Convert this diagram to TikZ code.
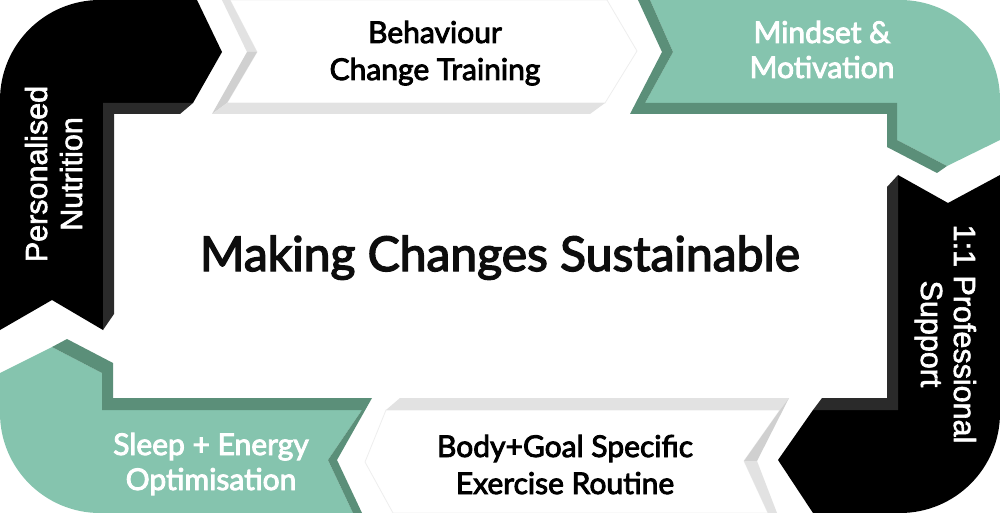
\documentclass[tikz,border=0pt]{standalone}
\usepackage{fontspec}
\setmainfont{Lato}
\newfontfamily\latom[FakeBold=3]{Lato}
\newfontfamily\arialf[FakeBold=2]{Liberation Sans}
\definecolor{gface}{HTML}{85C4AE}
\definecolor{gside}{HTML}{5B8F79}
\definecolor{kface}{HTML}{000000}
\definecolor{kside}{HTML}{2A2A2A}
\definecolor{wside}{HTML}{E2E2E2}
\definecolor{wsidedark}{HTML}{D0D0D0}
\definecolor{wedge}{HTML}{EEEEEE}
\begin{document}
\begin{tikzpicture}[x=1pt,y=-1pt,
  greenface/.style={fill=gface},
  greenside/.style={fill=gside},
  blackface/.style={fill=kface},
  blackside/.style={fill=kside},
  whiteface/.style={fill=white,draw=wedge,line width=0.8pt},
  whiteside/.style={fill=wside},
  whitesidedk/.style={fill=wsidedark},
  txtbase/.style={anchor=base,inner sep=0pt},
  onwhite/.style={txtbase,text=black,font=\latom\fontsize{30}{35}\selectfont},
  ongreen/.style={txtbase,text=white,font=\latom\fontsize{30}{35}\selectfont},
  onblack/.style={txtbase,text=white,font=\arialf\fontsize{30.5}{35}\selectfont},
  titletext/.style={txtbase,text=black!95,font=\latom\fontsize{48}{56}\selectfont}
]
\fill[white] (0,0) rectangle (1000,513);
\useasboundingbox (0,0) rectangle (1000,513);

% ---- Black top-left: Personalised Nutrition
\path[blackface] (0,330) -- (0,100) .. controls (0,44.8) and (44.8,0) .. (100,0)
  -- (197,0) -- (222,52) -- (193,103) -- (103,103) -- (103,330) -- (52,300) -- cycle;
\path[blackside] (103,103) -- (193,103) -- (180,114) -- (114,114) -- (114,314) -- (103,330) -- cycle;

% ---- White top: Behaviour Change Training
\path[whiteface] (230,0) -- (607,0) -- (637,51) -- (605,103) -- (227,103) -- (257,52) -- cycle;
\path[whiteside] (222,0) -- (230,0) -- (257,52) -- (247,52) -- cycle;
\path[whitesidedk] (247,52) -- (257,52) -- (227,103) -- (212,114) -- cycle;
\path[whiteside] (227,103) -- (605,103) -- (590,114) -- (212,114) -- cycle;

% ---- Green top-right: Mindset & Motivation
\path[greenface] (650,0) -- (900,0) .. controls (955.2,0) and (1000,44.8) .. (1000,100)
  -- (1000,140) -- (947,166) -- (897,140) -- (897,103) -- (645,103) -- (673,52) -- cycle;
\path[greenside] (638,0) -- (650,0) -- (673,52) -- (645,103) -- (897,103) -- (897,140)
  -- (947,166) -- (937,173) -- (887,147) -- (887,114) -- (630,114) -- (662,52) -- cycle;

% ---- Black right: 1:1 Professional Support
\path[blackface] (898,175) -- (948,203) -- (1000,175) -- (1000,413)
  .. controls (1000,468.2) and (955.2,513) .. (900,513)
  -- (813,513) -- (778,460) -- (813,410) -- (898,410) -- cycle;
\path[blackside] (898,175) -- (898,410) -- (813,410) -- (822,398) -- (887,398) -- (887,187) -- cycle;

% ---- White bottom: Body+Goal Specific Exercise Routine
\path[whiteface] (386,410) -- (780,410) -- (744,461) -- (768,513) -- (393,513) -- (365,462) -- cycle;
\path[whiteside] (400,398) -- (789,398) -- (780,410) -- (386,410) -- cycle;
\path[whitesidedk] (789,398) -- (757,461) -- (744,461) -- (780,410) -- cycle;
\path[whiteside] (757,461) -- (777,513) -- (768,513) -- (744,461) -- cycle;

% ---- Green bottom-left: Sleep + Energy Optimisation
\path[greenface] (0,373) -- (52,347) -- (102,373) -- (102,410) -- (362,410) -- (328,460)
  -- (353,513) -- (100,513) .. controls (44.8,513) and (0,468.2) .. (0,413) -- cycle;
\path[greenside] (52,347) -- (67,339) -- (113,363) -- (113,398) -- (372,398) -- (337,460)
  -- (362,513) -- (353,513) -- (328,460) -- (362,410) -- (102,410) -- (102,373) -- cycle;

% ---- Texts
\node[titletext] (title) at (500,271) {Making Changes Sustainable};
\node[onwhite] (beh1) at (435,43) {Behaviour};
\node[onwhite] (beh2) at (435,80) {Change Training};
\node[ongreen] (mind1) at (822,43) {Mindset \&};
\node[ongreen] (mind2) at (822,78) {Motivation};
\node[onwhite] (body1) at (565,457) {Body+Goal Specific};
\node[onwhite] (body2) at (565,494) {Exercise Routine};
\node[ongreen] (sleep1) at (211,455) {Sleep + Energy};
\node[ongreen] (sleep2) at (211,490) {Optimisation};
\node[onblack,rotate=90] (pn1) at (47,174) {Personalised};
\node[onblack,rotate=90] (pn2) at (82,174) {Nutrition};
\node[onblack,rotate=-90] (sup1) at (954,334) {1:1 Professional};
\node[onblack,rotate=-90] (sup2) at (921,334) {Support};
\end{tikzpicture}
\end{document}
